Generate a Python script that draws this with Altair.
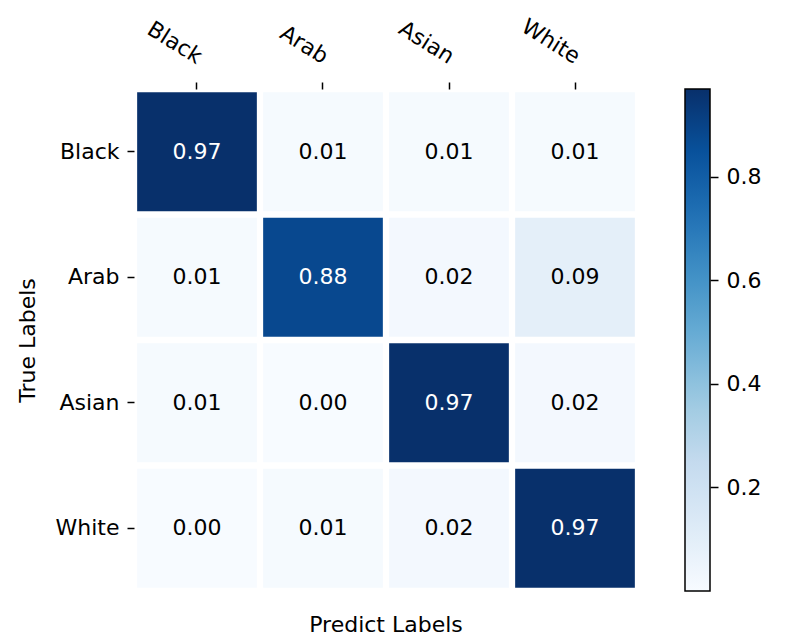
import altair as alt
import pandas as pd

labels = ["Black", "Arab", "Asian", "White"]
row_black = [0.97, 0.01, 0.01, 0.01]
row_arab = [0.01, 0.88, 0.02, 0.09]
row_asian = [0.01, 0.00, 0.97, 0.02]
row_white = [0.00, 0.01, 0.02, 0.97]
colorbar_ticks = [0.2, 0.4, 0.6, 0.8]

# matplotlib "Blues" colormap stops
blues = ["#f7fbff", "#deebf7", "#c6dbef", "#9ecae1", "#6baed6",
         "#4292c6", "#2171b5", "#08519c", "#08306b"]

rows = [row_black, row_arab, row_asian, row_white]
records = []
for t, r in zip(labels, rows):
    for p, v in zip(labels, r):
        records.append({"true": t, "pred": p, "value": v})
df = pd.DataFrame(records)

FONT = "DejaVu Sans"
vmin = min(min(r) for r in rows)
vmax = max(max(r) for r in rows)
n = len(blues) - 1
stops = [vmin + (vmax - vmin) * i / n for i in range(n + 1)]

x = alt.X("pred:N", sort=labels,
          scale=alt.Scale(paddingInner=0.05, paddingOuter=0.025),
          axis=alt.Axis(orient="top", title=None, labelAngle=32, labelAlign="right",
                        labelBaseline="middle", labelPadding=24, labelOffset=3,
                        labelFontSize=22, labelFont=FONT, labelColor="black",
                        tickColor="black", tickSize=7, tickWidth=1.5, domain=False,
                        grid=False))
y = alt.Y("true:N", sort=labels,
          scale=alt.Scale(paddingInner=0.05, paddingOuter=0.025),
          axis=alt.Axis(title="True Labels", titleFontSize=22, titleFont=FONT,
                        titleFontWeight="normal", titleColor="black", titlePadding=16,
                        labelFontSize=22, labelFont=FONT, labelColor="black", labelPadding=8,
                        tickColor="black", tickSize=7, tickWidth=1.5, domain=False,
                        grid=False))

rect = alt.Chart(df).mark_rect().encode(
    x=x, y=y,
    color=alt.Color("value:Q",
                    scale=alt.Scale(domain=stops, range=blues, interpolate="rgb"),
                    legend=alt.Legend(orient="none", legendX=551, legendY=0,
                                      direction="vertical", title=None,
                                      gradientLength=502, gradientThickness=25,
                                      gradientStrokeColor="black", gradientStrokeWidth=1.5,
                                      values=colorbar_ticks, format=".1f",
                                      labelFontSize=22, labelFont=FONT, labelColor="black",
                                      labelOffset=17, labelOverlap=False, labelOpacity=0)),
)

text = alt.Chart(df).mark_text(fontSize=22, font=FONT).encode(
    x=alt.X("pred:N", sort=labels),
    y=alt.Y("true:N", sort=labels),
    text=alt.Text("value:Q", format=".2f"),
    color=alt.condition(alt.datum.value > (vmin + vmax) / 2, alt.value("white"), alt.value("black")),
)

# colorbar tick axis (same value domain as the colour scale)
cbar_axis = alt.Chart(df).mark_point(opacity=0).encode(
    y=alt.Y("value:Q",
            scale=alt.Scale(domain=[vmin, vmax], nice=False, zero=False),
            axis=alt.Axis(orient="right", offset=72, title=None, values=colorbar_ticks,
                          format=".1f", domain=False, grid=False,
                          tickColor="black", tickSize=8, tickWidth=1.5,
                          labelFontSize=22, labelFont=FONT, labelColor="black",
                          labelPadding=8, labelOverlap=False)),
)

chart = alt.layer(alt.layer(rect, text), cbar_axis).resolve_scale(y="independent").properties(
    width=504, height=502,
    title=alt.TitleParams("Predict Labels", orient="bottom", frame="group", anchor="middle",
                          fontSize=22, font=FONT, fontWeight="normal", color="black", offset=21),
    autosize=alt.AutoSizeParams(type="none"),
    padding={"left": 134, "top": 89, "right": 161, "bottom": 47},
).configure(background="white").configure_view(stroke="transparent", strokeWidth=0)

chart.save("out.html", embed_options={"renderer": "svg", "actions": False})
